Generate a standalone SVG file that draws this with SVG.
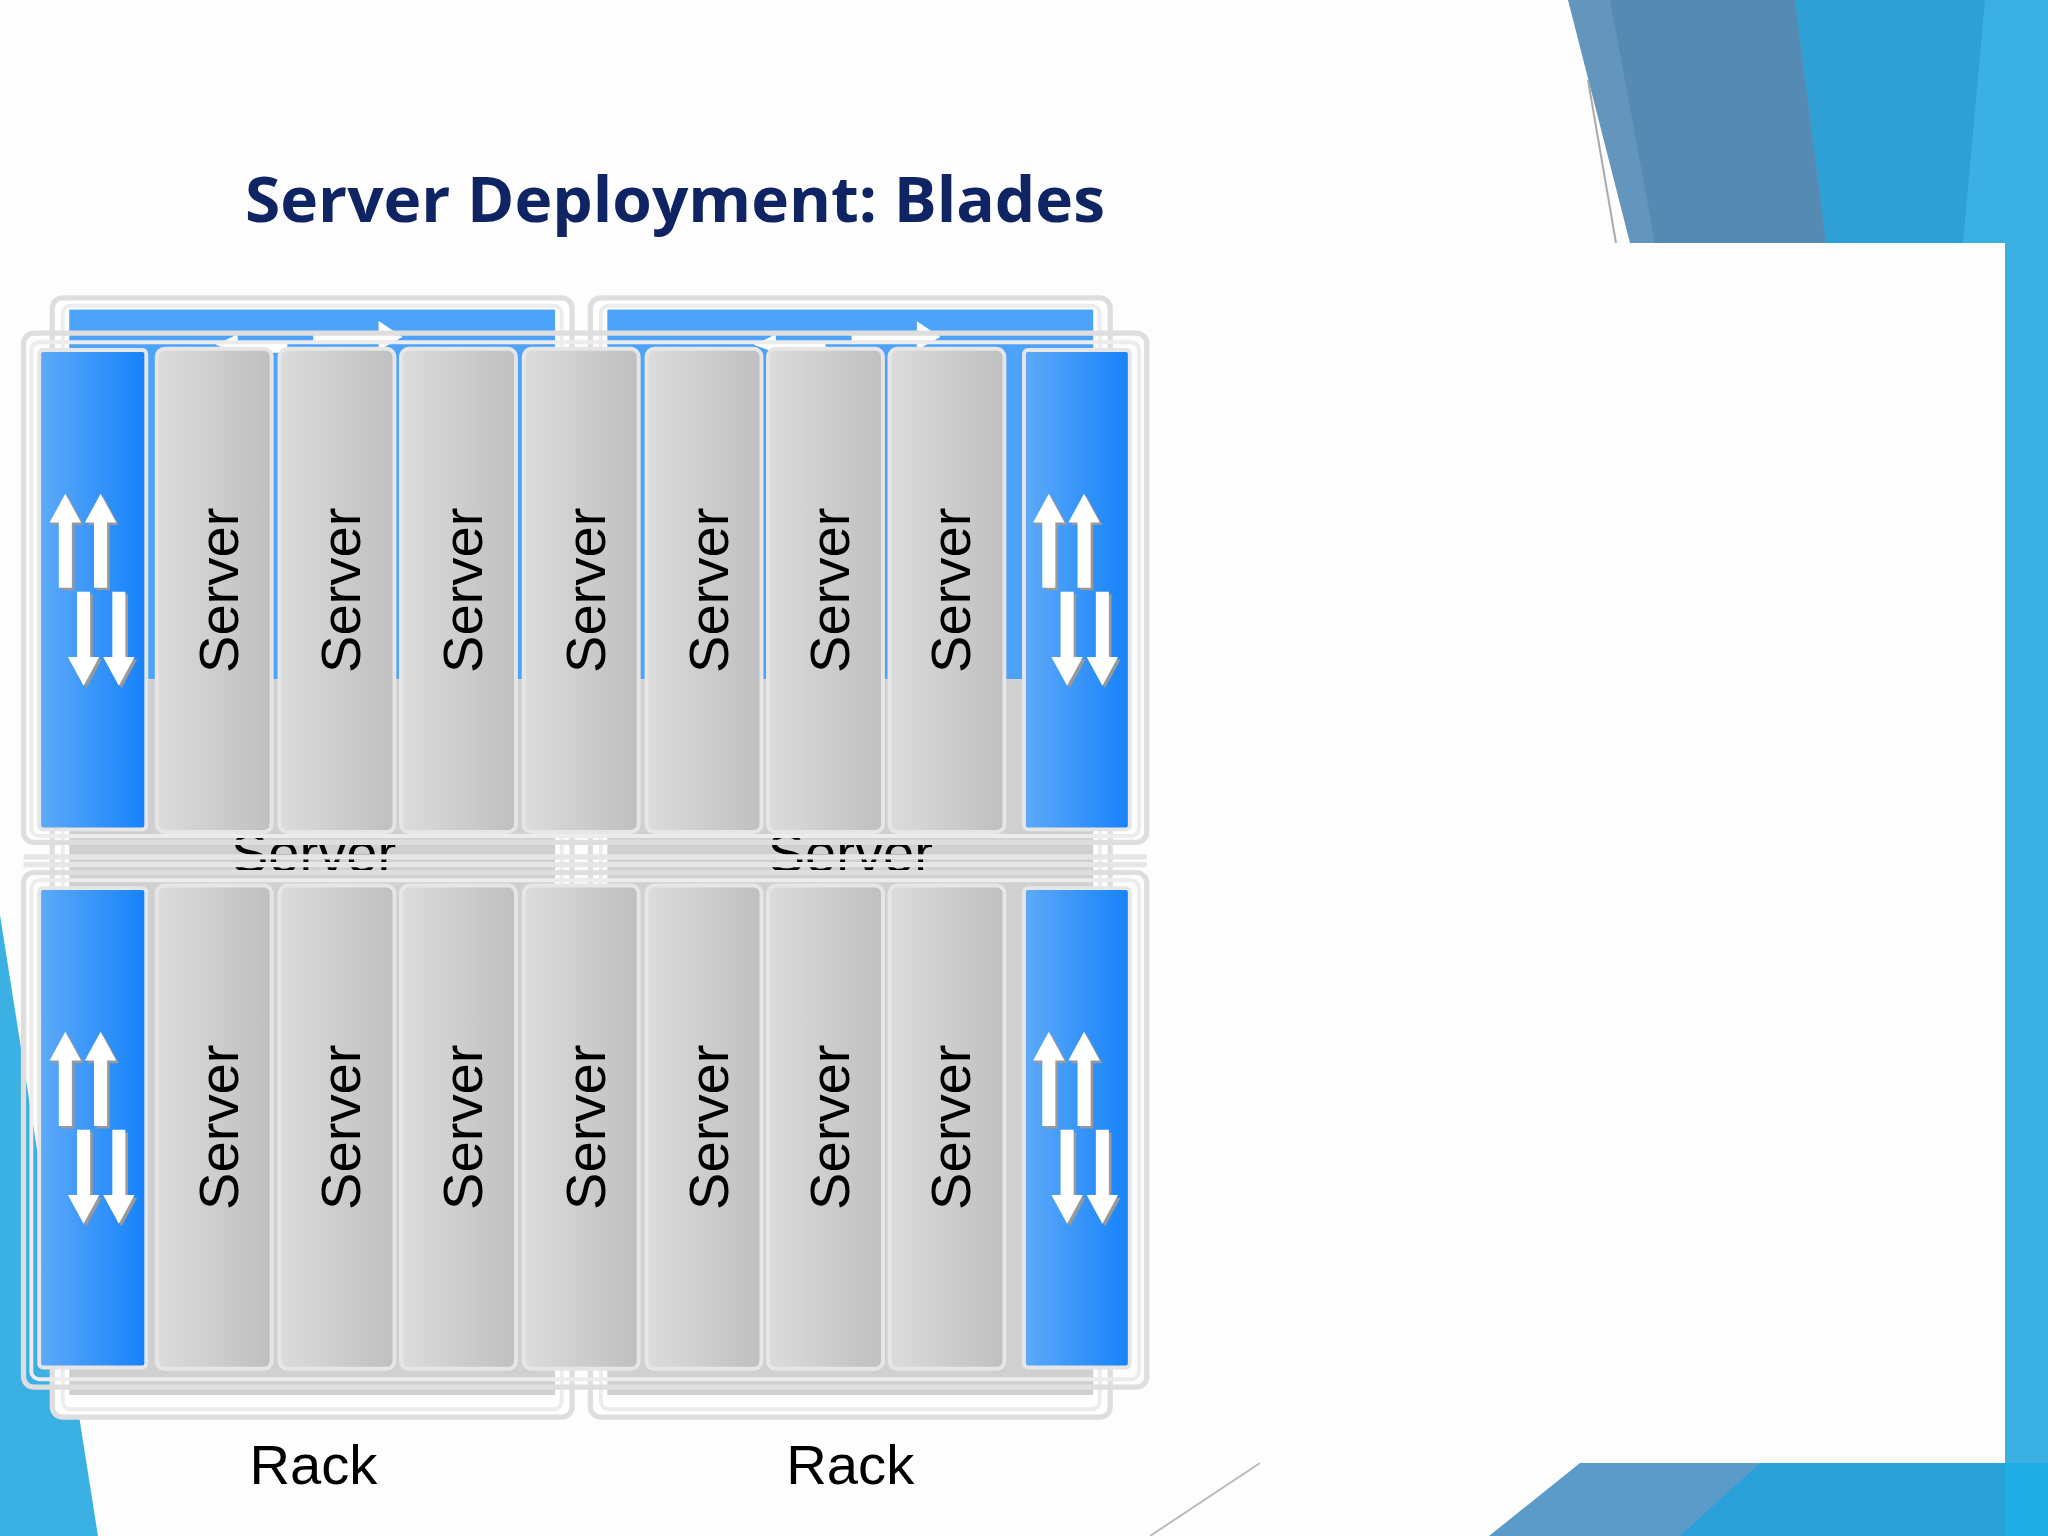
<svg xmlns="http://www.w3.org/2000/svg" xmlns:xlink="http://www.w3.org/1999/xlink" width="2048" height="1536" viewBox="0 0 2048 1536">
<style>
.srv{fill:url(#gs);stroke:#e6e6e6;stroke-width:3}
.sw{fill:url(#gb);stroke:#e6e6e6;stroke-width:3}
.lbl{font-family:"Liberation Sans",Arial,sans-serif;font-size:43px;fill:#000;text-anchor:middle}
.frame{fill:none;stroke:#dedede;stroke-width:4}
.frame2{fill:none;stroke:#ececec;stroke-width:3}
</style>
<defs>
<linearGradient id="gs" x1="0" x2="1" y1="0" y2="0"><stop offset="0" stop-color="#dcdcdc"/><stop offset="1" stop-color="#bfbfc1"/></linearGradient>
<linearGradient id="gb" x1="0" x2="1" y1="0" y2="0"><stop offset="0" stop-color="#5eaaf8"/><stop offset="1" stop-color="#1582fa"/></linearGradient>
<path id="up" d="M0,0 L12,22 L5,22 L5,72 L-5,72 L-5,22 L-12,22 Z"/>
<g id="arrows">
<g fill="#999" transform="translate(2,2)">
<use xlink:href="#up" x="50" y="378"/><use xlink:href="#up" x="77" y="378"/>
<use xlink:href="#up" transform="translate(64,525) scale(1,-1)"/><use xlink:href="#up" transform="translate(91,525) scale(1,-1)"/>
</g>
<g fill="#fff">
<use xlink:href="#up" x="50" y="378"/><use xlink:href="#up" x="77" y="378"/>
<use xlink:href="#up" transform="translate(64,525) scale(1,-1)"/><use xlink:href="#up" transform="translate(91,525) scale(1,-1)"/>
</g>
</g>
<g id="servers">
<rect class="srv" x="120" y="0" width="88" height="370" rx="6"/>
<rect class="srv" x="214" y="0" width="88" height="370" rx="6"/>
<rect class="srv" x="307" y="0" width="88" height="370" rx="6"/>
<rect class="srv" x="401" y="0" width="88" height="370" rx="6"/>
<rect class="srv" x="495" y="0" width="88" height="370" rx="6"/>
<rect class="srv" x="588" y="0" width="88" height="370" rx="6"/>
<rect class="srv" x="681" y="0" width="88" height="370" rx="6"/>
<text class="lbl" transform="translate(182,185) rotate(-90)">Server</text>
<text class="lbl" transform="translate(276,185) rotate(-90)">Server</text>
<text class="lbl" transform="translate(369,185) rotate(-90)">Server</text>
<text class="lbl" transform="translate(463,185) rotate(-90)">Server</text>
<text class="lbl" transform="translate(557,185) rotate(-90)">Server</text>
<text class="lbl" transform="translate(650,185) rotate(-90)">Server</text>
<text class="lbl" transform="translate(743,185) rotate(-90)">Server</text>
</g>
</defs>
<rect width="2048" height="1536" fill="#fdfdfd"/>
<g id="background">
<polygon points="1568,0 1800,0 1830,243 1630,243" fill="#6496bd"/>
<polygon points="1610,0 1795,0 1826,243 1655,243" fill="#558bb3"/>
<polygon points="1795,0 1990,0 1965,243 1826,243" fill="#2fa0d5"/>
<polygon points="1985,0 2048,0 2048,1536 2005,1536 2005,243 1963,243" fill="#3bb0e2"/>
<line x1="1588" y1="80" x2="1616" y2="243" stroke="#aaa" stroke-width="2"/>
<polygon points="1489,1536 1580,1463 1760,1463 1700,1536" fill="#5b9bc9"/>
<polygon points="1680,1536 1760,1463 2005,1463 2005,1536" fill="#2aa0d8"/>
<polygon points="2005,1463 2048,1463 2048,1536 2005,1536" fill="#1eaee5"/>
<line x1="1150" y1="1536" x2="1260" y2="1463" stroke="#bbb" stroke-width="2"/>
<polygon points="0,915 98,1536 0,1536" fill="#3bb0e2"/>
</g>
<text id="title" x="245" y="222" font-family="'Open Sans','DejaVu Sans',sans-serif" font-weight="bold" font-size="62" fill="#0f2463" textLength="860" lengthAdjust="spacingAndGlyphs">Server Deployment: Blades</text>
<g transform="scale(1.30612)">
<g id="rack1">
<rect x="40" y="228" width="398" height="857" rx="8" fill="#fff" stroke="#dedede" stroke-width="4"/>
<rect x="48" y="234" width="382" height="845" rx="6" class="frame2"/>
<rect x="53" y="237" width="372" height="283" fill="#4da3fa"/>
<rect x="53" y="520" width="372" height="548" fill="#d0d0d0"/>
<polygon points="240,254 290,254 290,246 308,258 290,268 290,262 240,262" fill="#fff"/>
<polygon points="240,254 290,254 290,246 308,258 290,268 290,262 240,262" fill="#fff"/>
<polygon points="165,264 182,256 182,262 220,262 220,270 182,270" fill="#fff"/>
</g>
<g id="rack2">
<rect x="452" y="228" width="398" height="857" rx="8" fill="#fff" stroke="#dedede" stroke-width="4"/>
<rect x="460" y="234" width="382" height="845" rx="6" class="frame2"/>
<rect x="465" y="237" width="372" height="283" fill="#4da3fa"/>
<rect x="465" y="520" width="372" height="548" fill="#d0d0d0"/>
<polygon points="652,254 702,254 702,246 720,258 702,268 702,262 652,262" fill="#fff"/>
<polygon points="577,264 594,256 594,262 632,262 632,270 594,270" fill="#fff"/>
</g>
<text class="lbl" x="240" y="668" font-size="40">Server</text>
<text class="lbl" x="651" y="668" font-size="40">Server</text>
<g stroke="#e6e6e6" stroke-width="4">
<line x1="18" y1="656" x2="878" y2="656"/>
<line x1="18" y1="662" x2="878" y2="662"/>
</g>
<g id="chassis-top">
<rect x="18" y="255" width="860" height="390" rx="8" class="frame"/>
<rect x="24" y="262" width="848" height="378" rx="6" class="frame2"/>
<rect class="sw" x="30" y="268" width="82" height="367" rx="3"/>
<rect class="sw" x="784" y="268" width="81" height="367" rx="3"/>
<use xlink:href="#arrows"/>
<use xlink:href="#arrows" x="753"/>
<use xlink:href="#servers" y="267"/>
</g>
<g id="chassis-bottom">
<rect x="18" y="668" width="860" height="394" rx="8" class="frame"/>
<rect x="24" y="674" width="848" height="382" rx="6" class="frame2"/>
<rect class="sw" x="30" y="680" width="82" height="367" rx="3"/>
<rect class="sw" x="784" y="680" width="81" height="367" rx="3"/>
<use xlink:href="#arrows" y="412"/>
<use xlink:href="#arrows" x="753" y="412"/>
<use xlink:href="#servers" y="678"/>
</g>
<text class="lbl" x="240" y="1136" font-size="40">Rack</text>
<text class="lbl" x="651" y="1136" font-size="40">Rack</text>
</g>
</svg>
